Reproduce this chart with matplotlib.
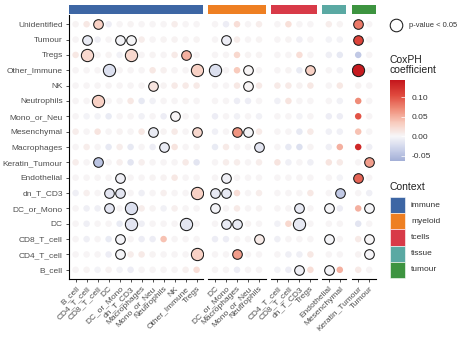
import matplotlib.pyplot as plt
from matplotlib.colors import LinearSegmentedColormap, Normalize
from matplotlib.cm import ScalarMappable
import matplotlib.patches as mpatches

plt.rcParams['font.family'] = ['Liberation Sans', 'DejaVu Sans']

# rows, top to bottom
cell_types = ["Unidentified", "Tumour", "Tregs", "Other_Immune", "NK", "Neutrophils",
              "Mono_or_Neu", "Mesenchymal", "Macrophages", "Keratin_Tumour", "Endothelial",
              "dn_T_CD3", "DC_or_Mono", "DC", "CD8_T_cell", "CD4_T_cell", "B_cell"]

contexts = ["immune", "myeloid", "tcells", "tissue", "tumour"]
context_colors = ["#3d66a4", "#ee7f22", "#d83a48", "#5aa9a3", "#3d9440"]
context_cells = [
    ["B_cell", "CD4_T_cell", "CD8_T_cell", "DC", "DC_or_Mono", "dn_T_CD3", "Macrophages",
     "Mono_or_Neu", "Neutrophils", "NK", "Other_Immune", "Tregs"],
    ["DC", "DC_or_Mono", "Macrophages", "Mono_or_Neu", "Neutrophils"],
    ["CD4_T_cell", "CD8_T_cell", "dn_T_CD3", "Tregs"],
    ["Endothelial", "Mesenchymal"],
    ["Keratin_Tumour", "Tumour"],
]

# CoxPH coefficients, one row per cell type; columns follow context_cells in order
coef = [
    [0.003, 0.012, 0.03, -0.008, 0.002, 0.003, 0.002, 0.002, 0.002, 0.008, 0.002, 0.002,
     0.002, -0.008, 0.02, 0.002, 0.008, 0.002, 0.018, 0.002, 0.002, 0.008, 0.003, 0.08, 0.002],
    [0.002, -0.01, -0.006, 0.002, -0.003, -0.001, 0.008, 0.002, 0.003, 0.004, 0.002, 0.003,
     0.002, -0.008, 0.008, 0.002, 0.003, 0.002, 0.003, -0.005, 0.002, -0.003, -0.003, 0.11, 0.002],
    [0.012, 0.025, 0.002, 0.003, -0.004, 0.025, 0.002, 0.003, 0.002, 0.01, 0.05, 0.002,
     0.002, 0.002, 0.025, 0.003, 0.003, 0.002, 0.002, 0.02, 0.002, -0.006, -0.012, -0.04, 0.002],
    [0.002, 0.002, 0.002, -0.02, 0.002, 0.002, 0.002, 0.012, 0.005, 0.002, 0.002, 0.03,
     -0.02, 0.002, 0.035, 0.002, 0.002, 0.002, 0.003, -0.01, 0.03, 0.002, -0.003, 0.14, 0.002],
    [0.002, 0.002, 0.002, 0.002, 0.002, 0.002, 0.002, 0.015, 0.003, 0.01, 0.01, 0.01,
     0.002, 0.002, 0.012, 0.002, 0.01, 0.01, 0.01, 0.004, 0.012, 0.002, 0.012, 0.003, 0.002],
    [0.002, 0.002, 0.03, 0.002, 0.002, 0.012, -0.012, -0.004, 0.002, 0.002, 0.003, 0.002,
     0.002, 0.002, -0.008, -0.008, 0.002, -0.005, 0.015, 0.002, 0.002, 0.002, -0.004, 0.07, 0.002],
    [0.002, -0.003, -0.003, -0.01, 0.002, 0.002, -0.004, 0.002, -0.008, 0.002, 0.002, 0.002,
     -0.008, 0.002, -0.004, 0.002, -0.004, 0.002, 0.002, -0.003, 0.002, -0.008, -0.008, 0.1, 0.002],
    [0.008, 0.002, 0.015, 0.002, 0.004, 0.002, 0.012, -0.01, 0.003, 0.01, 0.002, 0.025,
     -0.005, 0.002, 0.065, -0.002, 0.01, 0.002, 0.002, -0.012, 0.01, -0.005, -0.005, 0.04, 0.002],
    [0.002, 0.008, 0.002, -0.012, 0.008, -0.012, 0.002, -0.008, -0.01, 0.015, 0.002, 0.003,
     -0.01, 0.01, 0.002, 0.002, -0.015, 0.002, -0.012, -0.02, 0.003, -0.006, 0.05, 0.13, -0.006],
    [0.008, 0.002, -0.045, 0.002, 0.006, -0.015, 0.006, 0.002, 0.002, 0.002, 0.01, -0.015,
     0.002, 0.008, 0.008, 0.002, 0.008, 0.015, -0.005, 0.002, -0.006, 0.015, 0.01, 0.002, 0.06],
    [0.002, 0.002, 0.002, 0.002, -0.006, 0.002, 0.002, 0.003, 0.004, 0.012, 0.002, 0.002,
     0.002, -0.006, 0.002, 0.002, 0.002, 0.002, 0.002, 0.002, 0.002, 0.002, -0.003, 0.09, 0.002],
    [-0.006, 0.006, 0.002, -0.015, -0.015, 0.002, -0.006, 0.002, 0.006, 0.002, 0.002, 0.03,
     -0.012, -0.012, 0.02, 0.002, 0.008, 0.002, 0.002, 0.002, 0.012, 0.002, -0.04, 0.002, -0.006],
    [0.002, -0.006, -0.006, -0.015, 0.002, -0.02, 0.008, 0.003, -0.004, 0.006, 0.002, 0.002,
     -0.003, 0.002, 0.01, 0.002, 0.003, 0.002, 0.002, -0.012, 0.002, -0.002, -0.008, 0.05, -0.002],
    [0.002, -0.006, 0.002, 0.002, -0.01, -0.015, -0.006, 0.002, 0.002, 0.002, -0.015, 0.002,
     0.002, -0.01, -0.01, 0.003, 0.002, -0.004, 0.025, -0.012, 0.002, 0.002, 0.002, -0.015, 0.002],
    [0.002, -0.006, 0.002, -0.01, -0.003, 0.002, -0.008, -0.008, 0.04, 0.002, 0.002, 0.002,
     -0.008, -0.008, 0.002, 0.002, 0.01, -0.006, 0.002, 0.002, 0.002, -0.002, 0.002, 0.01, 0.001],
    [0.002, 0.002, 0.002, -0.008, -0.002, 0.008, 0.01, 0.003, 0.002, 0.002, 0.002, 0.03,
     0.002, 0.002, 0.06, 0.002, 0.002, 0.002, -0.006, -0.006, 0.012, 0.002, 0.002, 0.004, 0.0],
    [0.002, 0.003, -0.003, 0.004, -0.003, -0.008, 0.002, 0.002, 0.002, 0.002, 0.005, 0.02,
     0.002, 0.002, -0.008, 0.002, 0.002, -0.003, -0.008, -0.006, 0.02, -0.003, 0.05, 0.01, 0.002],
]

# cells with p-value < 0.05: (row, context, column, strong)
significant = [
    ("Unidentified", "immune", "CD8_T_cell", 0), ("Unidentified", "tumour", "Keratin_Tumour", 0),
    ("Tumour", "immune", "CD4_T_cell", 0), ("Tumour", "immune", "DC_or_Mono", 0),
    ("Tumour", "immune", "dn_T_CD3", 0), ("Tumour", "myeloid", "DC_or_Mono", 0),
    ("Tumour", "tumour", "Keratin_Tumour", 0),
    ("Tregs", "immune", "CD4_T_cell", 1), ("Tregs", "immune", "dn_T_CD3", 1),
    ("Tregs", "immune", "Other_Immune", 0),
    ("Other_Immune", "immune", "DC", 1), ("Other_Immune", "immune", "Tregs", 1),
    ("Other_Immune", "myeloid", "DC", 1), ("Other_Immune", "myeloid", "Mono_or_Neu", 0),
    ("Other_Immune", "tcells", "Tregs", 0), ("Other_Immune", "tumour", "Keratin_Tumour", 1),
    ("NK", "immune", "Mono_or_Neu", 0), ("NK", "myeloid", "Mono_or_Neu", 0),
    ("Neutrophils", "immune", "CD8_T_cell", 1),
    ("Mono_or_Neu", "immune", "NK", 0),
    ("Mesenchymal", "immune", "Mono_or_Neu", 0), ("Mesenchymal", "immune", "Tregs", 0),
    ("Mesenchymal", "myeloid", "Macrophages", 0), ("Mesenchymal", "myeloid", "Mono_or_Neu", 0),
    ("Macrophages", "immune", "Neutrophils", 0), ("Macrophages", "myeloid", "Neutrophils", 0),
    ("Keratin_Tumour", "immune", "CD8_T_cell", 0), ("Keratin_Tumour", "tumour", "Tumour", 0),
    ("Endothelial", "immune", "DC_or_Mono", 0), ("Endothelial", "myeloid", "DC_or_Mono", 0),
    ("Endothelial", "tumour", "Keratin_Tumour", 0),
    ("dn_T_CD3", "immune", "DC", 0), ("dn_T_CD3", "immune", "DC_or_Mono", 0),
    ("dn_T_CD3", "immune", "Tregs", 1), ("dn_T_CD3", "myeloid", "DC", 0),
    ("dn_T_CD3", "myeloid", "DC_or_Mono", 0), ("dn_T_CD3", "tissue", "Mesenchymal", 0),
    ("DC_or_Mono", "immune", "DC", 0), ("DC_or_Mono", "immune", "dn_T_CD3", 1),
    ("DC_or_Mono", "myeloid", "DC", 0), ("DC_or_Mono", "tcells", "dn_T_CD3", 0),
    ("DC_or_Mono", "tissue", "Endothelial", 0), ("DC_or_Mono", "tumour", "Tumour", 0),
    ("DC", "immune", "dn_T_CD3", 1), ("DC", "immune", "Other_Immune", 1),
    ("DC", "myeloid", "DC_or_Mono", 0), ("DC", "myeloid", "Macrophages", 0),
    ("DC", "tcells", "dn_T_CD3", 1),
    ("CD8_T_cell", "immune", "DC_or_Mono", 0), ("CD8_T_cell", "myeloid", "Neutrophils", 0),
    ("CD8_T_cell", "tissue", "Endothelial", 0), ("CD8_T_cell", "tumour", "Tumour", 0),
    ("CD4_T_cell", "immune", "DC_or_Mono", 0), ("CD4_T_cell", "immune", "Tregs", 1),
    ("CD4_T_cell", "myeloid", "Macrophages", 0), ("CD4_T_cell", "tumour", "Tumour", 0),
    ("B_cell", "tcells", "dn_T_CD3", 0), ("B_cell", "tissue", "Endothelial", 0),
]

vmin, vmax = -0.063, 0.144
nodes = [(-0.063, "#a3afd7"), (-0.03, "#cfd5eb"), (0.0, "#f7f6f8"), (0.035, "#f8cbbd"),
         (0.07, "#ef8c78"), (0.105, "#e04a3e"), (0.144, "#c4161c")]
cmap = LinearSegmentedColormap.from_list(
    "coxph", [((v - vmin) / (vmax - vmin), c) for v, c in nodes])
norm = Normalize(vmin, vmax)

W, H = 474, 338
fig = plt.figure(figsize=(W / 100, H / 100), dpi=100)

unit = 11.0
gap = 5.2
x0 = 69
top, bottom = 15, 279
n_rows = len(cell_types)

col_start = 0
for k, ctx in enumerate(contexts):
    cells = context_cells[k]
    n = len(cells)
    width = (n + 0.2) * unit
    ax = fig.add_axes([x0 / W, 1 - bottom / H, width / W, (bottom - top) / H])
    ax.set_xlim(-0.6, n - 0.4)
    ax.set_ylim(-0.6, n_rows - 0.4)

    xs, ys, cs = [], [], []
    for i, row in enumerate(cell_types):
        for j in range(n):
            xs.append(j)
            ys.append(n_rows - 1 - i)
            cs.append(coef[i][col_start + j])
    ax.scatter(xs, ys, c=cs, cmap=cmap, norm=norm, s=22, linewidths=0, zorder=2)

    for row, c, cell, strong in significant:
        if c != ctx:
            continue
        i = cell_types.index(row)
        j = cells.index(cell)
        ax.scatter([j], [n_rows - 1 - i], c=[coef[i][col_start + j]], cmap=cmap, norm=norm,
                   s=78 if strong else 48, edgecolors="#1a1a1a", linewidths=0.75, zorder=3)

    for side in ["top", "right"]:
        ax.spines[side].set_visible(False)
    ax.spines["bottom"].set_linewidth(0.8)
    ax.spines["left"].set_linewidth(0.8)
    ax.set_xticks(range(n))
    ax.set_xticklabels(cells, rotation=45, ha="right", rotation_mode="anchor")
    ax.tick_params(axis="both", labelsize=6, labelcolor="#4d4d4d", length=2.5, width=0.6,
                   color="#333333", pad=2)
    if k == 0:
        ax.set_yticks(range(n_rows))
        ax.set_yticklabels(cell_types[::-1])
    else:
        ax.spines["left"].set_visible(False)
        ax.set_yticks([])

    # strip on top
    strip = fig.add_axes([x0 / W, 1 - 14 / H, width / W, 9 / H])
    strip.set_facecolor(context_colors[k])
    strip.set_xticks([])
    strip.set_yticks([])
    for s in strip.spines.values():
        s.set_visible(False)

    x0 += width + gap
    col_start += n

# legends
leg = fig.add_axes([0, 0, 1, 1], facecolor="none")
leg.set_xlim(0, W)
leg.set_ylim(H, 0)
leg.axis("off")

leg.scatter([396.5], [25], s=82, facecolors="white", edgecolors="#1a1a1a", linewidths=0.75)
leg.text(409.5, 25.5, "p-value < 0.05", fontsize=5.4, color="#333333", va="center")

leg.text(390, 65, "CoxPH\ncoefficient", fontsize=7.5, color="#222222", va="center",
         linespacing=1.0)

cax = fig.add_axes([390 / W, 1 - 161 / H, 15 / W, 81 / H])
cb = fig.colorbar(ScalarMappable(norm=norm, cmap=cmap), cax=cax, ticks=[-0.05, 0.0, 0.05, 0.10])
cb.ax.set_yticklabels(["-0.05", "0.00", "0.05", "0.10"])
cb.outline.set_visible(False)
cb.ax.tick_params(length=3, width=0.5, color="white", labelsize=6, labelcolor="#333333",
                  direction="in", pad=5)

leg.text(390, 187, "Context", fontsize=7.5, color="#222222", va="center")
for k, ctx in enumerate(contexts):
    y = 197 + 16.2 * k
    leg.add_patch(mpatches.Rectangle((390, y), 15, 16.2, facecolor=context_colors[k],
                                     edgecolor="white", linewidth=0.4))
    leg.text(411, y + 8.1, ctx, fontsize=6, color="#333333", va="center")

fig.savefig("out.png", dpi=100)
